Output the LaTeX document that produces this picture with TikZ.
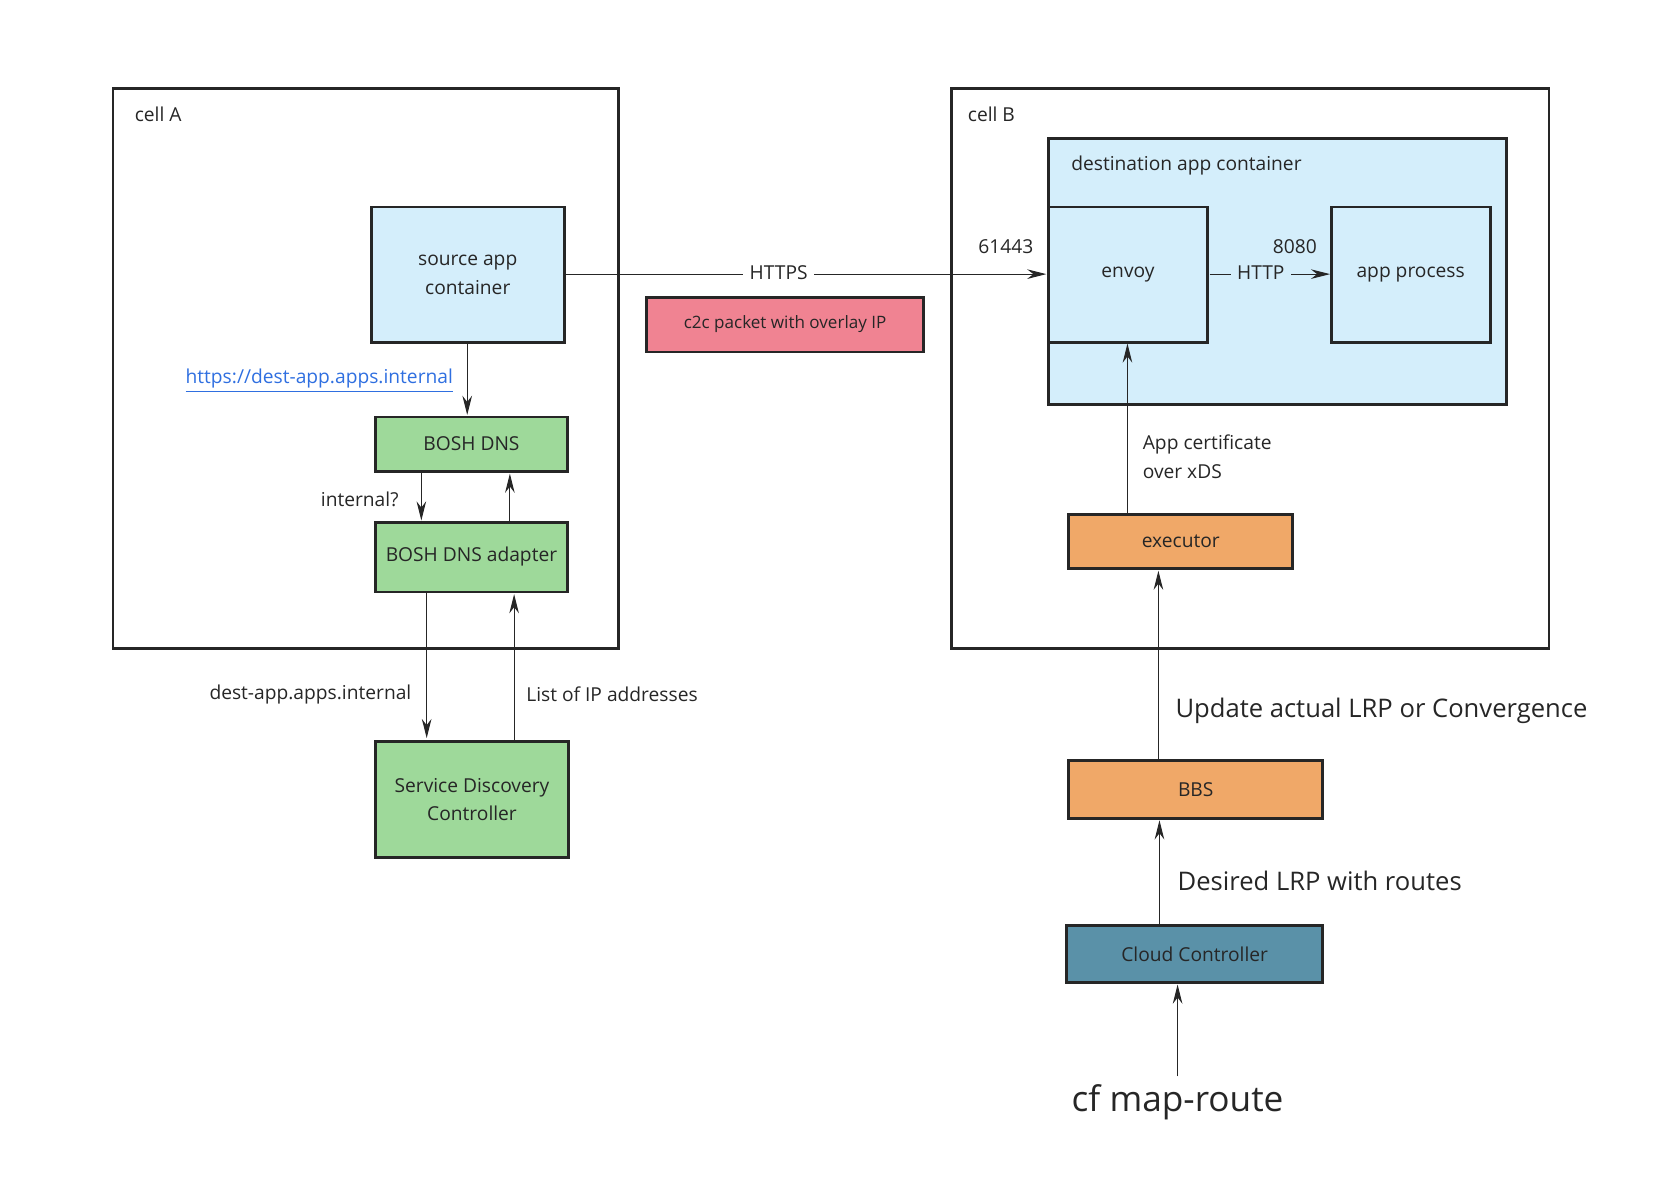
\documentclass[tikz,border=0pt]{standalone}
\usepackage{fontspec}
\setmainfont{Open Sans}
\usetikzlibrary{arrows.meta}
\definecolor{lblue}{HTML}{D4EEFB}
\definecolor{lgreen}{HTML}{9ED99A}
\definecolor{lorange}{HTML}{F0A868}
\definecolor{lpink}{HTML}{F08392}
\definecolor{lteal}{HTML}{5A91A8}
\definecolor{linkc}{HTML}{2F6FE0}
\begin{document}
\begin{tikzpicture}[x=0.5pt,y=-0.5pt,
  box/.style={draw=black!85,line width=1.3pt},
  frame/.style={draw=black!85,line width=1.2pt},
  txt/.style={font=\fontsize{9}{13.5}\selectfont,text=black!85,align=center},
  arr/.style={-{Stealth[length=9pt,width=4.5pt]},line width=0.5pt,black!85},
  lbl/.style={font=\fontsize{9}{13.5}\selectfont,text=black!85,inner sep=1pt},
  big/.style={font=\fontsize{12}{15}\selectfont,text=black!85}]
\useasboundingbox (0,0) rectangle (1560,1125);
\draw[frame] (106,83) rectangle (580,608);
\draw[frame] (892,83) rectangle (1452,608);
\node[lbl,anchor=west] (ca) at (124,107) {cell A};
\node[lbl,anchor=west] (cb) at (905,107) {cell B};
\draw[box,fill=lblue] (983,130) rectangle (1412,379);
\node[lbl,anchor=west] (dac) at (1002,155) {destination app container};
\draw[box,fill=lblue] (348,194) rectangle (529,321);
\node[txt] (src) at (438.5,257.5) {source app\\container};
\draw[box,fill=lblue] (983,194) rectangle (1132,321);
\node[txt] (envoy) at (1057.5,257.5) {envoy};
\draw[box,fill=lblue] (1248,194) rectangle (1397,321);
\node[txt] (app) at (1322.5,257.5) {app process};
\draw[box,fill=lpink] (606,279) rectangle (866,330);
\node[txt,font=\fontsize{8}{10}\selectfont] (c2c) at (736,304) {c2c packet with overlay IP};
\draw[box,fill=lgreen] (352,391) rectangle (532,442);
\node[txt] (dns) at (442,416) {BOSH DNS};
\draw[box,fill=lgreen] (352,490) rectangle (532,555);
\node[txt] (ad) at (442,522) {BOSH DNS adapter};
\draw[box,fill=lgreen] (352,695) rectangle (533,804);
\node[txt] (sdc) at (442.5,749.5) {Service Discovery\\Controller};
\draw[box,fill=lorange] (1002,482) rectangle (1212,533);
\node[txt] (ex) at (1107,507) {executor};
\draw[box,fill=lorange] (1002,713) rectangle (1240,767);
\node[txt] (bbs) at (1121,740) {BBS};
\draw[box,fill=lteal] (1000,868) rectangle (1240,921);
\node[txt] (cc) at (1120,894.5) {Cloud Controller};
\node[font=\fontsize{16.5}{20}\selectfont,text=black!85] (cf) at (1104,1033) {cf map-route};
\coordinate (s1) at (530,257);
\coordinate (e1) at (981,257);
\draw[arr] (s1) -- (e1);
\node[lbl,fill=white,inner xsep=3pt] (https) at (730,256) {HTTPS};
\node[lbl] (p1) at (943,231) {61443};
\node[lbl] (p2) at (1214,231) {8080};
\coordinate (h1) at (1134,257);
\coordinate (h2) at (1247,257);
\draw[arr] (h1) -- (h2);
\node[lbl,fill=lblue,inner xsep=3pt] (http) at (1182,256) {HTTP};
\coordinate (a1) at (438,322); \coordinate (a2) at (438,389);
\draw[arr] (a1) -- (a2);
\node[lbl,text=linkc,anchor=east] (link) at (427,357) {\underline{https://dest-app.apps.internal}};
\coordinate (b1) at (395,443); \coordinate (b2) at (395,488);
\draw[arr] (b1) -- (b2);
\coordinate (b3) at (478,489); \coordinate (b4) at (478,444);
\draw[arr] (b3) -- (b4);
\node[lbl,anchor=east] (int) at (376,468) {internal?};
\coordinate (c1) at (400,556); \coordinate (c2) at (400,692);
\draw[arr] (c1) -- (c2);
\coordinate (c3) at (482,694); \coordinate (c4) at (482,557);
\draw[arr] (c3) -- (c4);
\node[lbl,anchor=east] (dname) at (388,651) {dest-app.apps.internal};
\node[lbl,anchor=west] (ips) at (491,651) {List of IP addresses};
\coordinate (x1) at (1057,481); \coordinate (x2) at (1057,322);
\draw[arr] (x1) -- (x2);
\node[lbl,anchor=north west,align=left] (cert) at (1069,405) {App certificate\\over xDS};
\coordinate (y1) at (1086,712); \coordinate (y2) at (1086,535);
\draw[arr] (y1) -- (y2);
\node[big,anchor=west] (upd) at (1095,666) {Update actual LRP or Convergence};
\coordinate (z1) at (1087,867); \coordinate (z2) at (1087,769);
\draw[arr] (z1) -- (z2);
\node[big,anchor=west] (des) at (1097,826) {Desired LRP with routes};
\coordinate (w1) at (1104,1009); \coordinate (w2) at (1104,923);
\draw[arr] (w1) -- (w2);
\end{tikzpicture}
\end{document}
